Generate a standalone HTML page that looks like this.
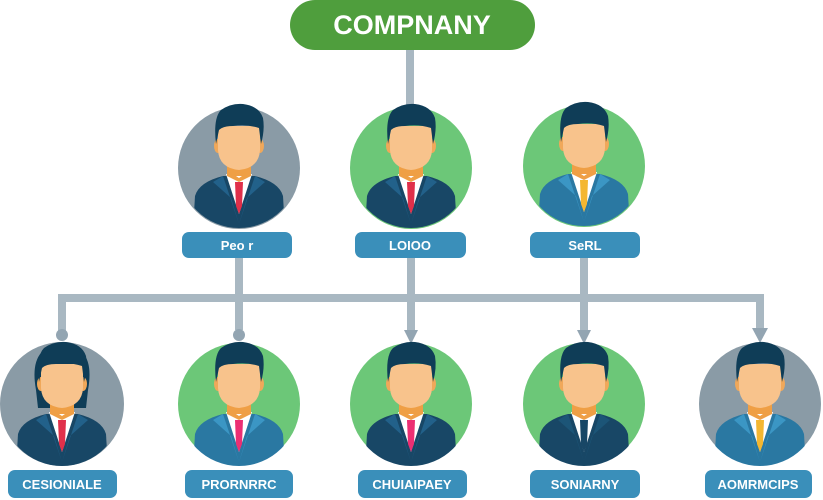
<!DOCTYPE html>
<html><head><meta charset="utf-8"><style>
html,body{margin:0;padding:0;background:#fff;width:823px;height:500px;overflow:hidden}
text{font-family:"Liberation Sans",sans-serif;font-weight:bold}
</style></head><body>
<svg width="823" height="500" viewBox="0 0 823 500" xmlns="http://www.w3.org/2000/svg">
<defs>
<clipPath id="c"><circle cx="0" cy="0" r="60"/></clipPath>
<g id="p">
 <g clip-path="url(#c)">
  <path d="M-46,62 L-44,28 Q-40,14 -16,8 L16,8 Q40,14 44,28 L46,62 Z" fill="var(--s)"/>
  <path d="M-16,8 L-26,14 L-8,30 L0,56 Z" fill="var(--l)"/>
  <path d="M16,8 L26,14 L8,30 L0,56 Z" fill="var(--l)"/>
  <path d="M-13,6 L13,6 L0,46 Z" fill="#fff"/>
  <path d="M-4,14 L4,14 L3,38 L0,46 L-3,38 Z" fill="currentColor"/>
 </g>
 <rect x="-12" y="-12" width="24" height="20" fill="#ef9f45"/>
 <path d="M-12,2 L0,10 L12,2 L12,8 L0,14 L-12,8 Z" fill="#ef9f45"/>
 <ellipse cx="-21" cy="-22" rx="4" ry="7" fill="#f0a85a"/>
 <ellipse cx="21" cy="-22" rx="4" ry="7" fill="#f0a85a"/>
 <path d="M-21,-42 L-21,-18 Q-20,0 0,2 Q20,0 21,-18 L21,-42 Z" fill="#f8c38c"/>
 <path d="M-23,-24 Q-26,-50 -18,-58 Q-8,-65 4,-64 Q20,-62 24,-50 Q26,-38 22,-24 L20,-40 Q8,-44 -6,-42 Q-16,-42 -20,-38 Z" fill="#0f3d57"/>
</g>
</defs>

<g stroke="#a9b8c2" stroke-width="8" fill="none">
 <line x1="410" y1="48" x2="410" y2="110"/>
 <line x1="239" y1="255" x2="239" y2="330"/>
 <line x1="411" y1="255" x2="411" y2="330"/>
 <line x1="584" y1="255" x2="584" y2="330"/>
 <path d="M62,332 L62,298 L760,298 L760,330"/>
</g>
<g fill="#93a5b2">
 <circle cx="62" cy="335" r="6"/>
 <circle cx="239" cy="335" r="6"/>
 <path d="M404,330 L418,330 L411,344 Z"/>
 <path d="M577,330 L591,330 L584,344 Z"/>
 <path d="M752,328 L768,328 L760,343 Z"/>
</g>

<rect x="290" y="0" width="245" height="50" rx="25" fill="#4f9e3d"/>
<text x="412" y="34" font-size="27" fill="#fff" text-anchor="middle">COMPNANY</text>

<circle cx="239" cy="168" r="61" fill="#8a9ba6"/>
<circle cx="411" cy="168" r="61" fill="#6cc778"/>
<circle cx="584" cy="166" r="61" fill="#6cc778"/>
<use href="#p" transform="translate(239,168)" style="--s:#184766;--l:#22618a;color:#e0304a"/>
<use href="#p" transform="translate(411,168)" style="--s:#184766;--l:#22618a;color:#e0304a"/>
<use href="#p" transform="translate(584,166)" style="--s:#2a78a2;--l:#3b96c4;color:#f4b731"/>

<g fill="#3a8fba">
 <rect x="182" y="232" width="110" height="26" rx="7"/>
 <rect x="355" y="232" width="111" height="26" rx="7"/>
 <rect x="530" y="232" width="110" height="26" rx="7"/>
</g>
<g fill="#fff" font-size="13" text-anchor="middle">
 <text x="237" y="250">Peo r</text>
 <text x="410" y="250">LOIOO</text>
 <text x="585" y="250">SeRL</text>
</g>

<circle cx="62" cy="404" r="62" fill="#8a9ba6"/>
<circle cx="239" cy="404" r="61" fill="#6cc778"/>
<circle cx="411" cy="404" r="61" fill="#6cc778"/>
<circle cx="584" cy="404" r="61" fill="#6cc778"/>
<circle cx="760" cy="404" r="61" fill="#8a9ba6"/>
<path d="M36,390 Q28,346 62,344 Q96,346 88,390 L86,408 L38,408 Z" fill="#0f3d57"/>
<use href="#p" transform="translate(62,406)" style="--s:#184766;--l:#22618a;color:#e0304a"/>
<use href="#p" transform="translate(239,406)" style="--s:#2a78a2;--l:#3b96c4;color:#ec2f73"/>
<use href="#p" transform="translate(411,406)" style="--s:#184766;--l:#22618a;color:#ec2f73"/>
<use href="#p" transform="translate(584,406)" style="--s:#184766;--l:#1c5577;color:#184766"/>
<use href="#p" transform="translate(760,406)" style="--s:#2a78a2;--l:#3b96c4;color:#f4b731"/>

<g fill="#3a8fba">
 <rect x="8" y="470" width="109" height="28" rx="7"/>
 <rect x="185" y="470" width="108" height="28" rx="7"/>
 <rect x="358" y="470" width="109" height="28" rx="7"/>
 <rect x="530" y="470" width="110" height="28" rx="7"/>
 <rect x="705" y="470" width="107" height="28" rx="7"/>
</g>
<g fill="#fff" font-size="13" text-anchor="middle">
 <text x="62" y="489">CESIONIALE</text>
 <text x="239" y="489">PRORNRRC</text>
 <text x="412" y="489">CHUIAIPAEY</text>
 <text x="585" y="489">SONIARNY</text>
 <text x="758" y="489">AOMRMCIPS</text>
</g>
</svg>
</body></html>
